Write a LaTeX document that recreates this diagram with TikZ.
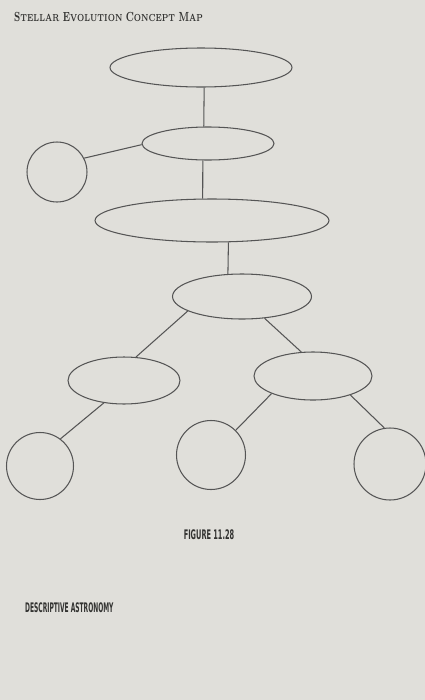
\documentclass[tikz,border=0pt]{standalone}
\usepackage{fontspec}
\newfontfamily\labelfont{DejaVu Sans}
\usetikzlibrary{shapes.geometric}
\definecolor{paper}{RGB}{224,223,218}
\definecolor{ink}{RGB}{85,85,85}
\definecolor{print}{RGB}{50,50,48}
\newcommand\bigsc{\fontsize{7.5}{9}\selectfont\bfseries}
\newcommand\smallsc{\fontsize{5.8}{7}\selectfont\bfseries}
\begin{document}
\begin{tikzpicture}[x=0.02cm, y=-0.02cm,
  blob/.style={draw=ink, line width=0.6pt, ellipse, inner sep=0pt},
  ball/.style={draw=ink, line width=0.6pt, circle, inner sep=0pt},
  link/.style={draw=ink, line width=0.6pt},
  caption/.style={print, inner sep=0pt, font=\labelfont\bfseries\fontsize{7.5}{9}\selectfont}]
\fill[paper] (0,0) rectangle (425,700);
\useasboundingbox (0,0) rectangle (425,700);
% title
\node (title) [anchor=west, print, inner sep=0pt, xscale=0.69] at (14,17)
  {\bigsc S\smallsc TELLAR \bigsc E\smallsc VOLUTION
   \bigsc C\smallsc ONCEPT \bigsc M\smallsc AP};
% concept map
\node (top) [blob, minimum width=3.64cm, minimum height=0.78cm] at (201,67.5) {};
\node (mid) [blob, minimum width=2.64cm, minimum height=0.66cm] at (208,143.5) {};
\node (side) [ball, minimum size=1.2cm] at (57,172) {};
\node (wide) [blob, minimum width=4.68cm, minimum height=0.86cm] at (212,220.5) {};
\node (fork) [blob, minimum width=2.78cm, minimum height=0.9cm] at (242,296.5) {};
\node (left) [blob, minimum width=2.24cm, minimum height=0.94cm] at (124,380.5) {};
\node (right) [blob, minimum width=2.36cm, minimum height=0.96cm] at (313,376) {};
\node (leafL) [ball, minimum size=1.34cm] at (40,466) {};
\node (leafM) [ball, minimum size=1.38cm] at (211,455) {};
\node (leafR) [ball, minimum size=1.44cm] at (390,464) {};
\draw[link] (top.279) to (mid.104);
\draw[link] (mid.181) to (side.27);
\draw[link] (mid.253) to (wide.113);
\draw[link] (wide.307) to (fork.122);
\draw[link] (fork.195) to (left.63);
\draw[link] (fork.316) to (right.116);
\draw[link] (left.228) to (leafL.53);
\draw[link] (right.203) to (leafM.45);
\draw[link] (right.333) to (leafR.99);
% captions
\node (figlabel) [caption, xscale=0.5] at (209,535) {FIGURE 11.28};
\node (booklabel) [caption, anchor=west, xscale=0.45] at (25,608) {DESCRIPTIVE ASTRONOMY};
\end{tikzpicture}
\end{document}
